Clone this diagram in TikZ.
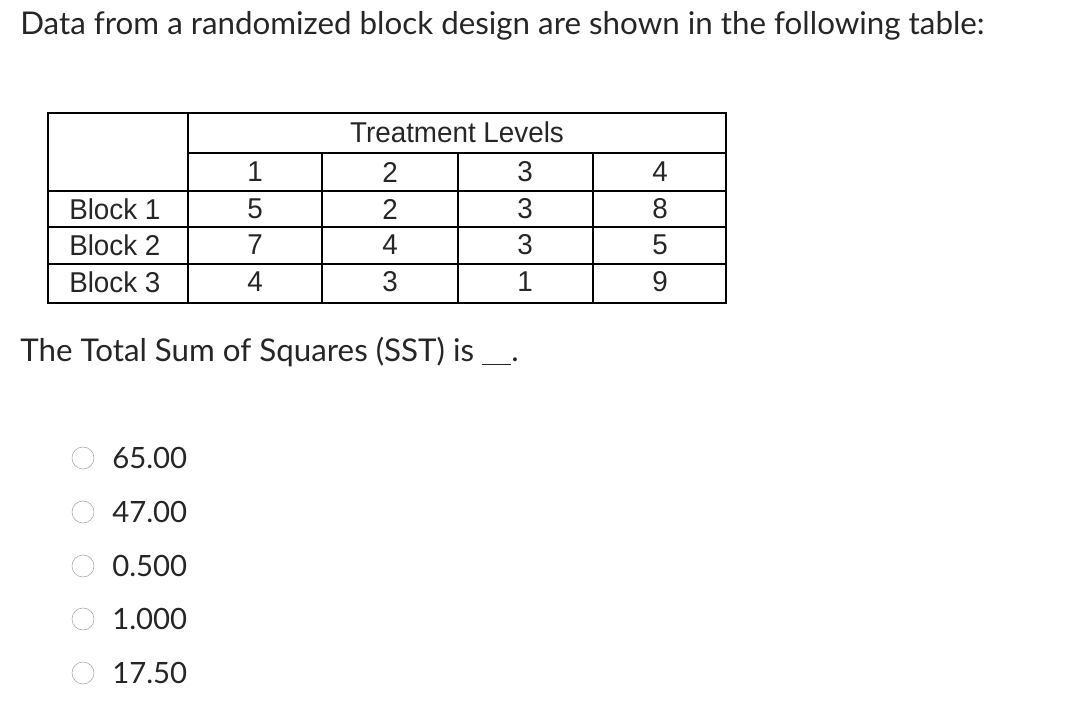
\documentclass[tikz,border=0pt]{standalone}
\usepackage{fontspec}
\setmainfont{Lato}
\newfontfamily\tabfont{Liberation Sans}
\tikzset{
  cell/.style={font=\tabfont\fontsize{21.5}{22}\selectfont, inner sep=0pt, text=black!85, xscale=0.97},
  prose/.style={font=\fontsize{23.5}{26}\selectfont, anchor=west, inner sep=0pt, text=black!85},
  choice/.style={font=\fontsize{22}{24}\selectfont, anchor=west, inner sep=0pt, text=black!85},
  radio/.style={circle, draw=black!35, fill=white, minimum size=16.5pt, inner sep=0pt}
}
\begin{document}
\begin{tikzpicture}[x=0.75pt, y=-0.75pt]
\useasboundingbox (0,0) rectangle (1082,722);
%Question
\node (title) [prose] at (20,26) {Data from a randomized block design are shown in the following table:};
%Table grid
\draw[line width=1.6pt] (48,113) rectangle (726,303);
\draw[line width=0.8pt] (188,113) -- (188,303);
\draw[line width=0.8pt] (188,153) -- (726,153);
\foreach \x in {322,458,593} \draw[line width=0.8pt] (\x,153) -- (\x,303);
\draw[line width=1.6pt] (48,191) -- (726,191);
\foreach \y in {227,264} \draw[line width=0.8pt] (48,\y) -- (726,\y);
%Table texts
\node (head) [cell] at (457,132) {Treatment Levels};
\node (lev1) [cell] at (255,172) {1};
\node (lev2) [cell] at (390,172) {2};
\node (lev3) [cell] at (525,172) {3};
\node (lev4) [cell] at (660,172) {4};
\node (b1) [cell, anchor=west] at (69,209) {Block 1};
\node (b2) [cell, anchor=west] at (69,245) {Block 2};
\node (b3) [cell, anchor=west] at (69,282) {Block 3};
\foreach \a/\b/\c/\d/\y [count=\r] in {5/2/3/8/209, 7/4/3/5/245, 4/3/1/9/282} {
  \node (v\r a) [cell] at (255,\y) {\a};
  \node (v\r b) [cell] at (390,\y) {\b};
  \node (v\r c) [cell] at (525,\y) {\c};
  \node (v\r d) [cell] at (660,\y) {\d};
}
\node (sst) [prose] at (20,352) {The Total Sum of Squares (SST) is \rule[-3pt]{22pt}{0.9pt}.};
%Choices
\foreach \lab/\y [count=\k] in {65.00/458, 47.00/512, 0.500/566, 1.000/619, 17.50/673} {
  \node (r\k) [radio] at (83,\y) {};
  \node (c\k) [choice] at (112,\y) {\lab};
}
\end{tikzpicture}
\end{document}
